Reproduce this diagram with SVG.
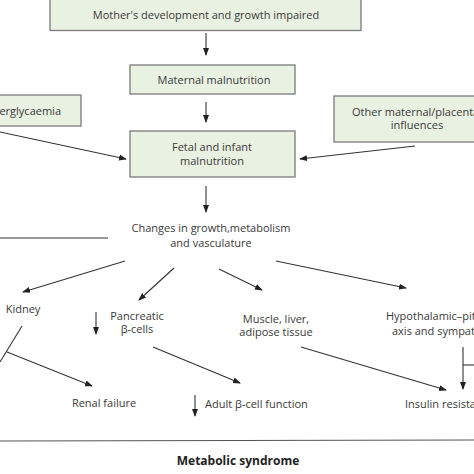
<svg xmlns="http://www.w3.org/2000/svg" width="474" height="474" viewBox="0 0 474 474">
<style>
.box{fill:#e9f1e2;stroke:#7a7a7a;stroke-width:1.3}
.t{font-family:"Open Sans","Noto Sans",sans-serif;font-size:11px;fill:#3a3a3a;text-anchor:middle}
.c{stroke:#333;stroke-width:1.1;fill:none}
.a{marker-end:url(#ah)}
</style>
<defs>
<marker id="ah" markerWidth="8" markerHeight="8" refX="7" refY="4" orient="auto" markerUnits="userSpaceOnUse">
<path d="M0,1 L8,4 L0,7 Z" fill="#222"/>
</marker>
</defs>
<rect width="474" height="474" fill="#fff"/>
<g id="n1"><rect class="box" x="50" y="-5" width="311" height="35.5"/><text class="t" x="206" y="19">Mother's development and growth impaired</text></g>
<g id="n2"><rect class="box" x="130" y="65" width="165" height="29"/><text class="t" x="214" y="84">Maternal malnutrition</text></g>
<g id="n3"><rect class="box" x="-5" y="95" width="86" height="31"/><text class="t" x="61" y="115" style="text-anchor:end">Hyperglycaemia</text></g>
<g id="n4"><rect class="box" x="130" y="131" width="165" height="46"/><text class="t" x="212" y="151"><tspan x="212">Fetal and infant</tspan><tspan x="212" dy="14">malnutrition</tspan></text></g>
<g id="n5"><rect class="box" x="334" y="96" width="145" height="46"/><text class="t" x="417" y="116"><tspan x="417">Other maternal/placental</tspan><tspan x="417" dy="12.5">influences</tspan></text></g>
<g id="n6"><text class="t" x="211" y="232"><tspan x="211">Changes in growth,metabolism</tspan><tspan x="211" dy="15">and vasculature</tspan></text></g>
<g id="n7"><text class="t" x="23" y="313">Kidney</text></g>
<g id="n8"><text class="t" x="137" y="320"><tspan x="137">Pancreatic</tspan><tspan x="137" dy="13">β-cells</tspan></text></g>
<g id="n9"><text class="t" x="276" y="323"><tspan x="276">Muscle, liver,</tspan><tspan x="276" dy="13">adipose tissue</tspan></text></g>
<g id="n10"><text class="t" x="386" y="320" style="text-anchor:start"><tspan x="386">Hypothalamic–pituitary</tspan><tspan x="392" dy="15">axis and sympathetic</tspan></text></g>
<g id="n11"><text class="t" x="104" y="407">Renal failure</text></g>
<g id="n12"><text class="t" x="205" y="408" style="text-anchor:start">Adult β-cell function</text></g>
<g id="n13"><text class="t" x="405" y="408" style="text-anchor:start">Insulin resistance</text></g>
<g id="n14"><text class="t" x="238" y="465" style="font-weight:bold;font-size:12px;fill:#222">Metabolic syndrome</text></g>
<g id="connectors">
<line class="c a" x1="206" y1="33" x2="206" y2="55"/>
<line class="c a" x1="206" y1="102" x2="206" y2="122"/>
<line class="c a" x1="0" y1="132" x2="126" y2="159"/>
<line class="c a" x1="415" y1="146" x2="300" y2="159"/>
<line class="c a" x1="206" y1="186" x2="206" y2="212"/>
<line class="c" x1="0" y1="238" x2="108" y2="238"/>
<line class="c a" x1="125" y1="261" x2="23" y2="292"/>
<line class="c a" x1="174" y1="268" x2="139" y2="300"/>
<line class="c a" x1="219" y1="269" x2="262" y2="290"/>
<line class="c a" x1="276" y1="261" x2="406" y2="288"/>
<line class="c a" x1="96" y1="312" x2="96" y2="334"/>
<line class="c" x1="22" y1="326" x2="0" y2="362"/>
<line class="c a" x1="7" y1="352" x2="92" y2="386"/>
<line class="c a" x1="153" y1="347" x2="240" y2="383"/>
<line class="c a" x1="301" y1="347" x2="446" y2="390"/>
<line class="c a" x1="195" y1="395" x2="195" y2="416"/>
<line class="c a" x1="463" y1="347" x2="463" y2="389"/>
<line class="c" x1="463" y1="365" x2="474" y2="365"/>
<line x1="0" y1="441" x2="474" y2="440" stroke="#555" stroke-width="1.2"/>
</g>
</svg>
